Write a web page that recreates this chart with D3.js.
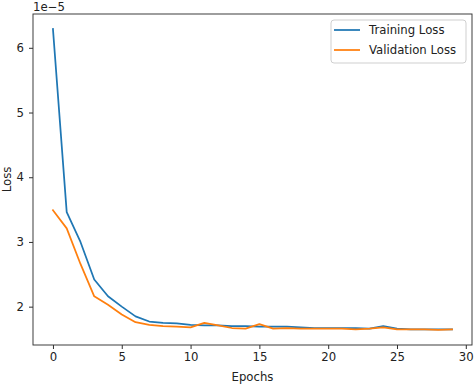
<!DOCTYPE html>
<html>
<head>
<meta charset="utf-8">
<script src="https://cdn.jsdelivr.net/npm/d3@7"></script>
<style>
  body { margin: 0; background: #fff; }
  text { font-family: "DejaVu Sans", sans-serif; }
</style>
</head>
<body>
<svg id="svg" width="474" height="385"></svg>
<script>
// 学習曲線のデータ (単位 1e-5)
const epochs = d3.range(0, 30);
const trainLoss = [6.29, 3.46, 3.0, 2.42, 2.16, 2.0, 1.85, 1.77, 1.75, 1.74,
  1.72, 1.71, 1.71, 1.70, 1.70, 1.69, 1.69, 1.69, 1.68, 1.67,
  1.67, 1.67, 1.67, 1.66, 1.70, 1.66, 1.65, 1.65, 1.65, 1.65];
const valLoss = [3.49, 3.21, 2.66, 2.16, 2.03, 1.88, 1.76, 1.72, 1.70, 1.69,
  1.68, 1.75, 1.71, 1.67, 1.66, 1.73, 1.66, 1.67, 1.66, 1.66,
  1.66, 1.66, 1.65, 1.66, 1.68, 1.65, 1.65, 1.65, 1.64, 1.65];
const xTicks = [0, 5, 10, 15, 20, 25, 30];
const yTicks = [2, 3, 4, 5, 6];
const seriesNames = ["Training Loss", "Validation Loss"];
const colors = ["#1f77b4", "#ff7f0e"];

const svg = d3.select("#svg");
const margin = { left: 33, top: 14, right: 2, bottom: 40 };
const width = 474 - margin.left - margin.right;
const height = 385 - margin.top - margin.bottom;
const fontSize = 11.7;

//matplotlibと同じ5%マージン
const allVals = trainLoss.concat(valLoss);
const yMin = d3.min(allVals), yMax = d3.max(allVals);
const yPad = (yMax - yMin) * 0.05;
const xPad = (d3.max(epochs) - d3.min(epochs)) * 0.05;

const x = d3.scaleLinear()
  .domain([d3.min(epochs) - xPad, d3.max(epochs) + xPad])
  .range([0, width]);
const y = d3.scaleLinear()
  .domain([yMin - yPad, yMax + yPad])
  .range([height, 0]);

const g = svg.append("g").attr("transform", `translate(${margin.left},${margin.top})`);

// 線
const line = (vals) => d3.line()
  .x((d, i) => x(epochs[i]))
  .y((d) => y(d))(vals);

[trainLoss, valLoss].forEach((vals, i) => {
  g.append("path")
    .attr("d", line(vals))
    .attr("fill", "none")
    .attr("stroke", colors[i])
    .attr("stroke-width", 1.75)
    .attr("stroke-linejoin", "round")
    .attr("stroke-linecap", "square");
});

// 軸
const xAxis = g.append("g")
  .attr("transform", `translate(0,${height})`)
  .call(d3.axisBottom(x).tickValues(xTicks).tickFormat(d3.format("d")).tickSize(4).tickPadding(4));
const yAxis = g.append("g")
  .call(d3.axisLeft(y).tickValues(yTicks).tickFormat(d3.format("d")).tickSize(4).tickPadding(5));

[xAxis, yAxis].forEach((ax) => {
  ax.select(".domain").remove();
  ax.selectAll("line").attr("stroke", "#222").attr("stroke-width", 0.95);
  ax.selectAll("text")
    .attr("font-size", fontSize)
    .attr("font-family", "DejaVu Sans")
    .attr("fill", "#222");
});

// 枠
g.append("rect")
  .attr("x", 0).attr("y", 0)
  .attr("width", width).attr("height", height)
  .attr("fill", "none")
  .attr("stroke", "#333")
  .attr("stroke-width", 0.95);

// ラベル
svg.append("text")
  .attr("x", margin.left + width / 2)
  .attr("y", 381)
  .attr("text-anchor", "middle")
  .attr("font-size", fontSize)
  .attr("fill", "#222")
  .text("Epochs");

svg.append("text")
  .attr("transform", `translate(11,${margin.top + height / 2}) rotate(-90)`)
  .attr("text-anchor", "middle")
  .attr("font-size", fontSize)
  .attr("fill", "#222")
  .text("Loss");

svg.append("text")
  .attr("x", margin.left)
  .attr("y", 11)
  .attr("font-size", fontSize)
  .attr("fill", "#222")
  .text("1e\u22125");

// 凡例
const legend = svg.append("g").attr("transform", "translate(331,20)");
legend.append("rect")
  .attr("width", 135).attr("height", 43)
  .attr("rx", 3)
  .attr("fill", "#fff").attr("fill-opacity", 0.8)
  .attr("stroke", "#ccc").attr("stroke-width", 0.95);
seriesNames.forEach((name, i) => {
  const ly = 10 + i * 20;
  legend.append("line")
    .attr("x1", 3).attr("x2", 29)
    .attr("y1", ly).attr("y2", ly)
    .attr("stroke", colors[i]).attr("stroke-width", 1.75);
  legend.append("text")
    .attr("x", 38).attr("y", ly + 4.3)
    .attr("font-size", fontSize)
    .attr("fill", "#222")
    .text(name);
});
</script>
</body>
</html>
